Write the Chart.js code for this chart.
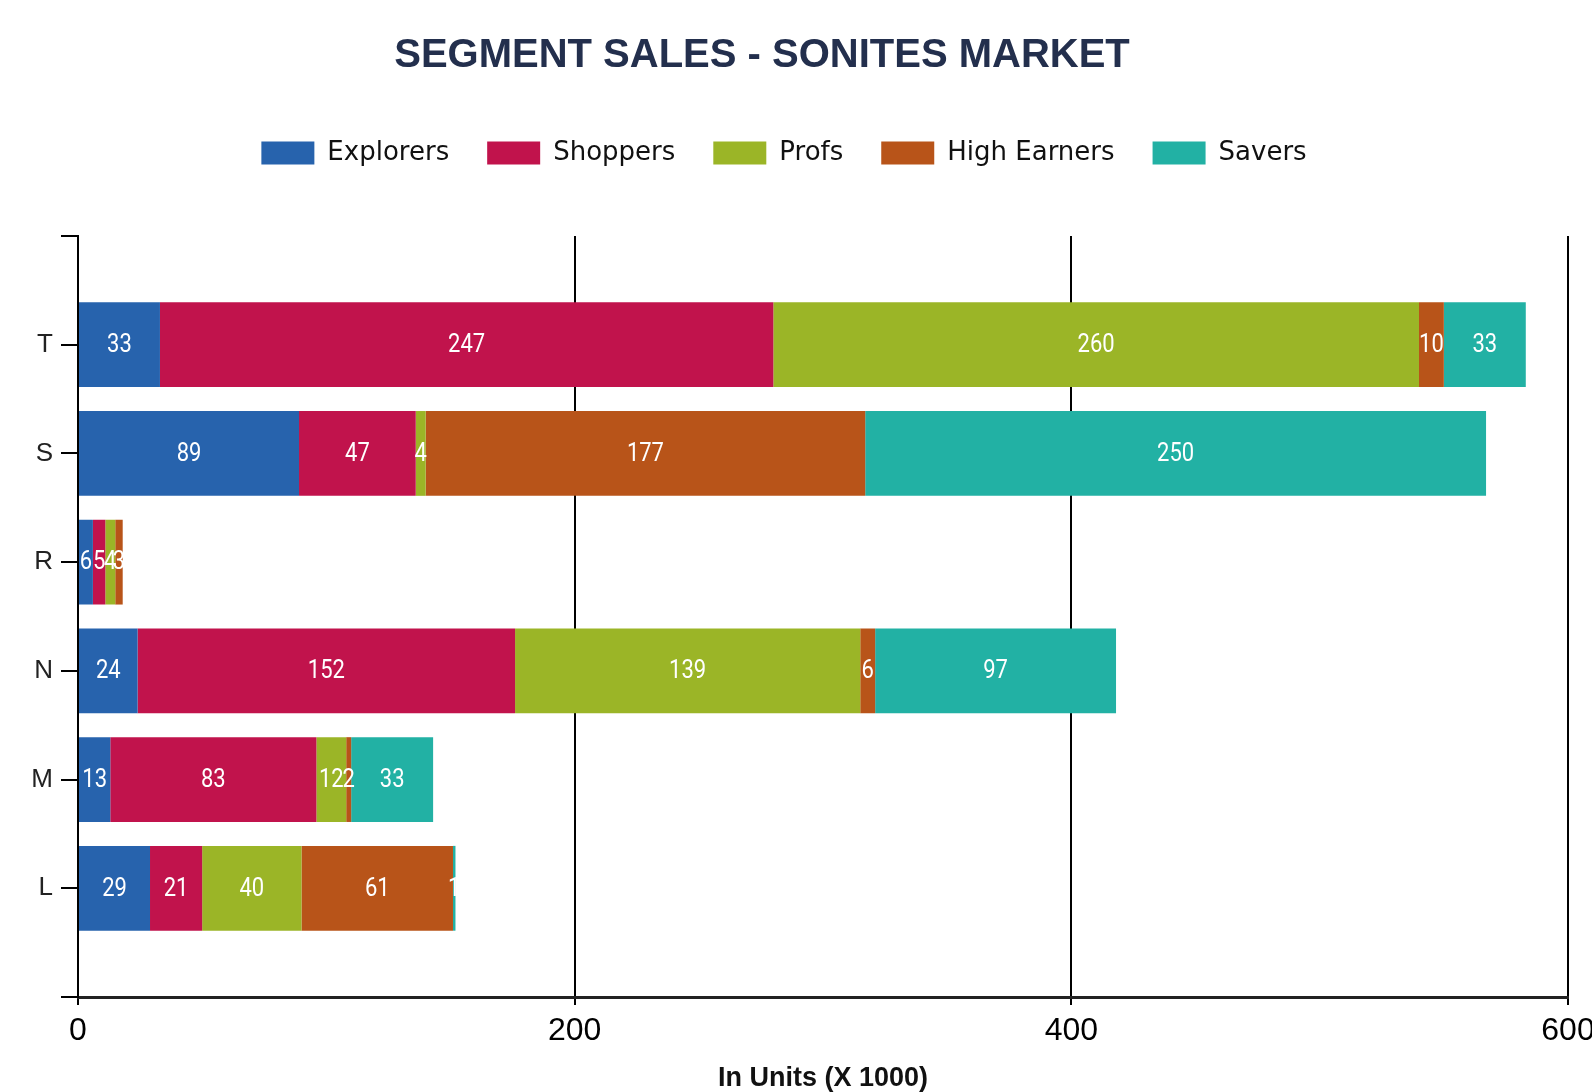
<!DOCTYPE html>
<html>
<head>
<meta charset="utf-8">
<title>Segment Sales - Sonites Market</title>
<script src="https://cdn.jsdelivr.net/npm/chart.js@4.4.1/dist/chart.umd.min.js"></script>
<style>
  html, body { margin: 0; padding: 0; background: #fff; }
  #wrap { width: 1592px; height: 1092px; }
</style>
</head>
<body>
<div id="wrap"><canvas id="segmentChart" width="1592" height="1092"></canvas></div>
<script>
// categories top to bottom, values in units (x 1000)
const categories = ['T', 'S', 'R', 'N', 'M', 'L'];
const explorers   = [33, 89, 6, 24, 13, 29];
const shoppers    = [247, 47, 5, 152, 83, 21];
const profs       = [260, 4, 4, 139, 12, 40];
const highEarners = [10, 177, 3, 6, 2, 61];
const savers      = [33, 250, 0, 97, 33, 1];
const xTicks = [0, 200, 400, 600];

const seriesNames  = ['Explorers', 'Shoppers', 'Profs', 'High Earners', 'Savers'];
const seriesColors = ['#2763ad', '#c1134c', '#9bb527', '#b85419', '#22b1a4'];
const seriesValues = [explorers, shoppers, profs, highEarners, savers];

// empty slot above and below so the axis has a tick at each end
const paddedLabels = [''].concat(categories, ['']);
const pad = arr => [null].concat(arr, [null]);

const datasets = seriesNames.map((name, i) => ({
    label: name,
    data: pad(seriesValues[i]),
    backgroundColor: seriesColors[i],
    borderWidth: 0,
    barPercentage: 0.78,
    categoryPercentage: 1
}));

// white value labels in the middle of each segment (narrowed like the original)
const segmentLabels = {
    id: 'segmentLabels',
    afterDatasetsDraw(chart) {
        const ctx = chart.ctx;
        const squeeze = 0.88;
        ctx.save();
        ctx.font = '25px Roboto, sans-serif';
        ctx.fillStyle = '#ffffff';
        ctx.textAlign = 'center';
        ctx.textBaseline = 'middle';
        chart.data.datasets.forEach((ds, i) => {
            chart.getDatasetMeta(i).data.forEach((bar, j) => {
                const v = ds.data[j];
                if (!v) return;
                const cx = (bar.x + bar.base) / 2;
                ctx.save();
                ctx.translate(cx, bar.y + 1);
                ctx.scale(squeeze, 1);
                ctx.fillText(String(v), 0, 0);
                ctx.restore();
            });
        });
        ctx.restore();
    }
};

// title sits a little left of centre in the original
const chartTitle = {
    id: 'chartTitle',
    afterDraw(chart) {
        const ctx = chart.ctx;
        ctx.save();
        ctx.font = 'bold 40px "Liberation Sans", Arial, sans-serif';
        ctx.fillStyle = '#232f4d';
        ctx.textAlign = 'center';
        ctx.textBaseline = 'middle';
        ctx.fillText('SEGMENT SALES - SONITES MARKET', chart.width / 2 - 34, 56);
        ctx.restore();
    }
};

// extra gap between legend and plot area
const legendGap = {
    id: 'legendGap',
    beforeLayout(chart) {
        const lg = chart.legend;
        if (!lg || lg._gapPatched) return;
        const origFit = lg.fit.bind(lg);
        lg.fit = function() {
            origFit();
            this.height += 60;
        };
        lg._gapPatched = true;
    }
};

const ctx = document.getElementById('segmentChart');
const chart = new Chart(ctx, {
    type: 'bar',
    data: { labels: paddedLabels, datasets: datasets },
    plugins: [legendGap, segmentLabels, chartTitle],
    options: {
        indexAxis: 'y',
        responsive: false,
        animation: false,
        devicePixelRatio: 1,
        layout: { padding: { top: 102, right: 24, bottom: 0, left: 0 } },
        plugins: {
            title: { display: false },
            tooltip: { enabled: false },
            legend: {
                position: 'top',
                labels: {
                    boxWidth: 53,
                    boxHeight: 23,
                    padding: 38,
                    color: '#111',
                    font: { family: '"DejaVu Sans", Verdana, sans-serif', size: 26 }
                }
            }
        },
        scales: {
            x: {
                stacked: true,
                min: 0,
                max: 600,
                afterBuildTicks: scale => { scale.ticks = xTicks.map(v => ({ value: v })); },
                afterFit: scale => {
                    scale.height = 95;
                    scale.paddingLeft = 0;
                    scale.paddingRight = 0;
                },
                grid: { color: '#000', lineWidth: 2, tickLength: 8, drawTicks: true },
                border: { display: true, color: '#222', width: 3 },
                ticks: {
                    color: '#000',
                    padding: 7,
                    font: { family: '"Liberation Sans", Arial, sans-serif', size: 32 }
                },
                title: {
                    display: true,
                    text: 'In Units (X 1000)',
                    color: '#111',
                    padding: { top: 0, bottom: 0 },
                    font: { family: '"Liberation Sans", Arial, sans-serif', size: 27, weight: 'bold', lineHeight: 1 }
                }
            },
            y: {
                stacked: true,
                offset: false,
                afterFit: scale => { scale.width = 78; },
                grid: { offset: false, drawOnChartArea: false, color: '#000', lineWidth: 2, tickLength: 17 },
                border: { display: true, color: '#000', width: 2 },
                ticks: {
                    color: '#222',
                    padding: 8,
                    autoSkip: false,
                    font: { family: '"Liberation Sans", Arial, sans-serif', size: 26 }
                }
            }
        }
    }
});
</script>
</body>
</html>
